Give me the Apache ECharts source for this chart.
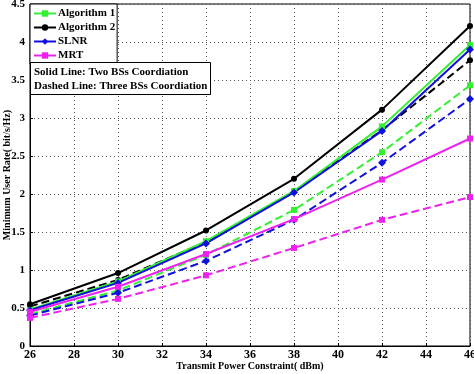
<!DOCTYPE html>
<html>
<head>
<meta charset="utf-8">
<script src="https://cdn.jsdelivr.net/npm/echarts@6/dist/echarts.min.js"></script>
<style>html,body{margin:0;padding:0;background:#fff}#c{width:474px;height:374px}</style>
</head>
<body>
<div id="c"></div>
<script>
const xValues = [26, 30, 34, 38, 42, 46];
const alg1Two = [0.48, 0.85, 1.38, 2.04, 2.89, 3.96];
const alg2Two = [0.55, 0.96, 1.52, 2.20, 3.11, 4.21];
const slnrTwo = [0.47, 0.83, 1.35, 2.02, 2.83, 3.90];
const mrtTwo = [0.45, 0.78, 1.21, 1.67, 2.19, 2.73];
const alg1Three = [0.42, 0.73, 1.20, 1.79, 2.55, 3.43];
const alg2Three = [0.52, 0.87, 1.37, 2.03, 2.84, 3.76];
const slnrThree = [0.40, 0.70, 1.12, 1.66, 2.41, 3.25];
const mrtThree = [0.37, 0.62, 0.93, 1.29, 1.66, 1.96];
const legendNames = ['Algorithm 1', 'Algorithm 2', 'SLNR', 'MRT'];
const noteText = 'Solid Line: Two BSs Coordiation\nDashed Line: Three BSs Coordiation';
const xTitle = 'Transmit Power Constraint( dBm)';
const yTitle = 'Minimum User Rate( bit/s/Hz)';

const font = 'Liberation Serif';
const pairs = arr => xValues.map((x, i) => [x, arr[i]]);
function mk(name, data, color, symbol, dashed) {
  return {
    name: name, type: 'line', data: pairs(data),
    symbol: symbol, symbolSize: symbol === 'diamond' ? 8 : 6,
    lineStyle: { color: color, width: 2, type: dashed ? 'dashed' : 'solid' },
    itemStyle: { color: color },
    z: dashed ? 2 : 3,
    animation: false
  };
}
const chart = echarts.init(document.getElementById('c'));
chart.setOption({
  animation: false,
  grid: { left: 30, right: 4, top: 4, bottom: 28, containLabel: false, outerBoundsMode: 'none',
          show: true, borderColor: '#000', borderWidth: 1 },
  title: {
    text: noteText, left: 30, top: 62,
    backgroundColor: '#fff', borderColor: '#000', borderWidth: 1,
    padding: [3, 3, 2, 4],
    textStyle: { fontFamily: font, fontWeight: 'bold', fontSize: 11, color: '#000', lineHeight: 14 }
  },
  legend: {
    data: legendNames, orient: 'vertical', left: 30, top: 4,
    backgroundColor: '#fff', borderColor: '#000', borderWidth: 1,
    padding: [4, 2, 3, 3], itemGap: 3, itemWidth: 22, itemHeight: 8,
    textStyle: { fontFamily: font, fontWeight: 'bold', fontSize: 11, color: '#000', padding: [0, 0, 0, -3] }
  },
  xAxis: {
    type: 'value', min: 26, max: 46, interval: 2,
    name: xTitle, nameLocation: 'middle', nameGap: 15, nameMoveOverlap: false,
    nameTextStyle: { fontFamily: font, fontWeight: 'bold', fontSize: 10, color: '#000' },
    axisLine: { lineStyle: { color: '#000', width: 1 } },
    axisTick: { inside: true, length: 3, lineStyle: { color: '#000' } },
    axisLabel: { fontFamily: font, fontWeight: 'bold', fontSize: 12, color: '#000', margin: 3 },
    splitLine: { show: true, lineStyle: { color: '#555', type: [1, 3], width: 1 } }
  },
  yAxis: {
    type: 'value', min: 0, max: 4.5, interval: 0.5,
    name: yTitle, nameLocation: 'middle', nameGap: 18, nameMoveOverlap: false,
    nameTextStyle: { fontFamily: font, fontWeight: 'bold', fontSize: 10, color: '#000' },
    axisLine: { show: true, lineStyle: { color: '#000', width: 1 } },
    axisTick: { show: true, inside: true, length: 3, lineStyle: { color: '#000' } },
    axisLabel: { fontFamily: font, fontWeight: 'bold', fontSize: 11, color: '#000', margin: 5 },
    splitLine: { show: true, lineStyle: { color: '#555', type: [1, 3], width: 1 } }
  },
  series: [
    mk('Algorithm 1', alg1Two, '#33f033', 'rect', false),
    mk('Algorithm 2', alg2Two, '#000000', 'circle', false),
    mk('SLNR', slnrTwo, '#1010dd', 'diamond', false),
    mk('MRT', mrtTwo, '#ee22ee', 'rect', false),
    mk('Algorithm 1', alg1Three, '#33f033', 'rect', true),
    mk('Algorithm 2', alg2Three, '#000000', 'circle', true),
    mk('SLNR', slnrThree, '#1010dd', 'diamond', true),
    mk('MRT', mrtThree, '#ee22ee', 'rect', true)
  ]
});
</script>
</body>
</html>
